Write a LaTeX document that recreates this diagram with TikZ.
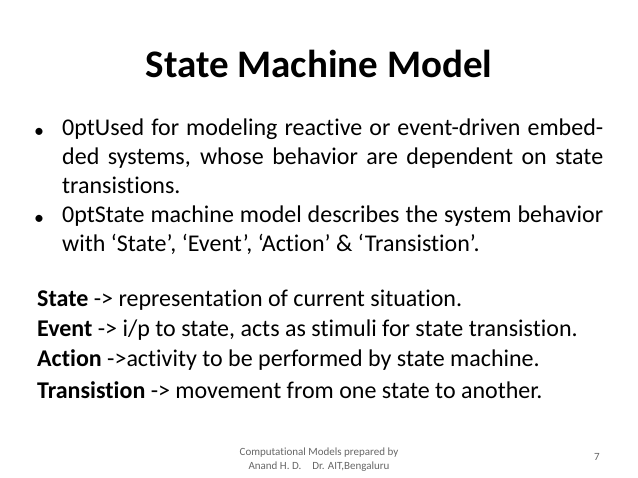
\documentclass[tikz,border=0pt]{standalone}
\usepackage{fontspec}
\setmainfont{Carlito}[RawFeature={-liga;-dlig}]
\begin{document}
\begin{tikzpicture}[x=1pt,y=-1pt,
  para/.style={anchor=north west,inner sep=0pt,text width=541pt,align=justify,font=\fontsize{24}{29}\selectfont\hyphenpenalty=10000 },
  defn/.style={anchor=west,inner sep=0pt,font=\fontsize{24}{29}\selectfont},
  bul/.style={anchor=center,inner sep=0pt,font=\fontsize{20}{29}\selectfont}]
\useasboundingbox (0,0) rectangle (638,478);
\node[anchor=center,inner sep=0pt,font=\fontsize{39}{44}\bfseries] (title) at (319,64) {State Machine Model};
\node[bul] (b1) at (39,133) {•};
\node[para] (p1) at (62,119) {Used for modeling reactive or event-driven embedded systems, whose behavior are dependent on state transistions.};
\node[bul] (b2) at (39,220) {•};
\node[para] (p2) at (62,206) {State machine model describes the system behavior with ‘State’, ‘Event’, ‘Action’ \& ‘Transistion’.};
\node[defn] (d1) at (37,300) {\textbf{State} -> representation of current situation.};
\node[defn] (d2) at (37,330) {\textbf{Event} -> i/p to state, acts as stimuli for state transistion.};
\node[defn] (d3) at (37,360) {\textbf{Action} ->activity to be performed by state machine.};
\node[defn] (d4) at (37,390) {\textbf{Transistion} -> movement from one state to another.};
\node[anchor=center,inner sep=0pt,align=center,text=gray!80!black,font=\fontsize{11}{14}\selectfont] (foot) at (319,460) {Computational Models prepared by\\Anand H. D.\quad Dr. AIT,Bengaluru};
\node[anchor=center,inner sep=0pt,text=gray!80!black,font=\fontsize{11}{14}\selectfont] (pg) at (597,457) {7};
\end{tikzpicture}
\end{document}
